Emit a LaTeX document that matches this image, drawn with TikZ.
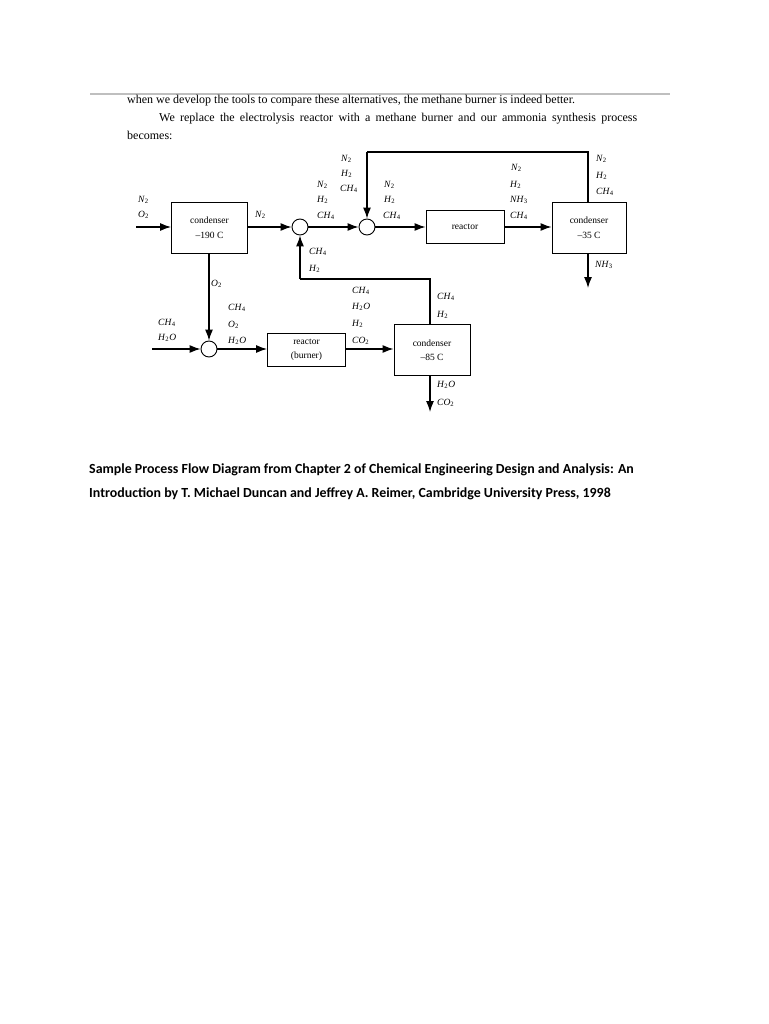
\documentclass[tikz,border=0pt]{standalone}
\usepackage{fontspec}
\setmainfont{Liberation Serif}
\newfontfamily\capfont{Carlito}
\usetikzlibrary{arrows.meta}
\newcommand\ch[2]{\textit{#1}\textsubscript{#2}}
\newcommand\water{\textit{H}\textsubscript{2}\textit{O}}
\tikzset{
  box/.style={draw, line width=0.9pt, minimum width=#1, inner sep=0pt, align=center, font=\fontsize{9.5}{14.5}\selectfont},
  mix/.style={draw, circle, line width=0.9pt, minimum size=16pt, inner sep=0pt},
  flow/.style={line width=1.2pt, -{Latex[length=11pt,width=8pt]}},
  pipe/.style={line width=1.2pt},
  lbl/.style={font=\fontsize{9.5}{12}\selectfont, inner sep=0pt, anchor=west},
  body/.style={font=\fontsize{12}{14}\selectfont, inner sep=0pt, anchor=base west},
  captxt/.style={font=\capfont\bfseries\fontsize{13.9}{16}\selectfont, inner sep=0pt, anchor=base west}
}
\begin{document}
\begin{tikzpicture}[x=1pt,y=-1pt]
\useasboundingbox (0,0) rectangle (768,1024);
\fill[white] (0,0) rectangle (768,1024);
% header
\coordinate (g1) at (90,94);
\coordinate (g2) at (670,94);
\draw[line width=1.5pt, black!25] (g1) -- (g2);
\node[body] (t1) at (127,104) {when we develop the tools to compare these alternatives, the methane burner is indeed better.};
\node[body] (t2) at (159,122) {\makebox[478pt][s]{We replace the electrolysis reactor with a methane burner and our ammonia synthesis process}};
\node[body] (t3) at (127,140) {becomes:};
% units
\node[box=76pt, minimum height=51pt] (c1) at (209.5,228) {condenser\\–190 C};
\node[mix] (m1) at (300,227) {};
\node[mix] (m2) at (367,227) {};
\node[box=78pt, minimum height=33pt] (r1) at (465,227) {reactor};
\node[box=74pt, minimum height=51pt] (c2) at (589,228) {condenser\\–35 C};
\node[mix] (m3) at (209,349) {};
\node[box=78pt, minimum height=33pt] (r2) at (306.5,350) {reactor\\(burner)};
\node[box=76pt, minimum height=51pt] (c3) at (432,350) {condenser\\–85 C};
% free ends
\coordinate (in1) at (136,227);
\coordinate (in3) at (152,349);
\coordinate (out2) at (588,288);
\coordinate (out3) at (430,412);
\coordinate (rt) at (367,152);
\coordinate (rb) at (300,279);
% connectors
\draw[flow] (in1) -- (c1.west|-in1);
\draw[flow] (c1.east|-m1) -- (m1.west);
\draw[flow] (m1.east) -- (m2.west);
\draw[flow] (m2.east) -- (r1.west|-m2);
\draw[flow] (r1.east|-m2) -- (c2.west|-m2);
\draw[pipe] (c2.north-|out2) -- (out2|-rt) -- (rt);
\draw[flow] (rt) -- (m2.north);
\draw[flow] (c2.south-|out2) -- (out2);
\draw[flow] (c1.south-|m3) -- (m3.north);
\draw[flow] (in3) -- (m3.west);
\draw[flow] (m3.east) -- (r2.west|-m3);
\draw[flow] (r2.east|-m3) -- (c3.west|-m3);
\draw[pipe] (c3.north-|out3) -- (out3|-rb) -- (rb);
\draw[flow] (rb) -- (m1.south);
\draw[flow] (c3.south-|out3) -- (out3);
% labels
\node[lbl] (l1) at (138,200) {\ch{N}{2}};
\node[lbl] (l2) at (138,215) {\ch{O}{2}};
\node[lbl] (l3) at (255,215) {\ch{N}{2}};
\node[lbl] (l4) at (317,185) {\ch{N}{2}};
\node[lbl] (l5) at (317,200) {\ch{H}{2}};
\node[lbl] (l6) at (317,216) {\ch{CH}{4}};
\node[lbl] (l7) at (341,159) {\ch{N}{2}};
\node[lbl] (l8) at (341,174) {\ch{H}{2}};
\node[lbl] (l9) at (340,189) {\ch{CH}{4}};
\node[lbl] (l10) at (384,185) {\ch{N}{2}};
\node[lbl] (l11) at (384,200) {\ch{H}{2}};
\node[lbl] (l12) at (383,216) {\ch{CH}{4}};
\node[lbl] (l13) at (511,168) {\ch{N}{2}};
\node[lbl] (l14) at (510,185) {\ch{H}{2}};
\node[lbl] (l15) at (510,200) {\ch{NH}{3}};
\node[lbl] (l16) at (510,216) {\ch{CH}{4}};
\node[lbl] (l17) at (596,159) {\ch{N}{2}};
\node[lbl] (l18) at (596,176) {\ch{H}{2}};
\node[lbl] (l19) at (596,192) {\ch{CH}{4}};
\node[lbl] (l20) at (595,265) {\ch{NH}{3}};
\node[lbl] (l21) at (309,252) {\ch{CH}{4}};
\node[lbl] (l22) at (309,269) {\ch{H}{2}};
\node[lbl] (l23) at (211,284) {\ch{O}{2}};
\node[lbl] (l24) at (158,323) {\ch{CH}{4}};
\node[lbl] (l25) at (158,338) {\water};
\node[lbl] (l26) at (228,308) {\ch{CH}{4}};
\node[lbl] (l27) at (228,325) {\ch{O}{2}};
\node[lbl] (l28) at (228,341) {\water};
\node[lbl] (l29) at (352,291) {\ch{CH}{4}};
\node[lbl] (l30) at (352,307) {\water};
\node[lbl] (l31) at (352,324) {\ch{H}{2}};
\node[lbl] (l32) at (352,341) {\ch{CO}{2}};
\node[lbl] (l33) at (437,297) {\ch{CH}{4}};
\node[lbl] (l34) at (437,315) {\ch{H}{2}};
\node[lbl] (l35) at (437,385) {\water};
\node[lbl] (l36) at (437,403) {\ch{CO}{2}};
% caption
\node[captxt] (cp1) at (89,473) {Sample Process Flow Diagram from Chapter 2 of Chemical Engineering Design and Analysis: An};
\node[captxt] (cp2) at (89,497) {Introduction by T. Michael Duncan and Jeffrey A. Reimer, Cambridge University Press, 1998};
\end{tikzpicture}
\end{document}
